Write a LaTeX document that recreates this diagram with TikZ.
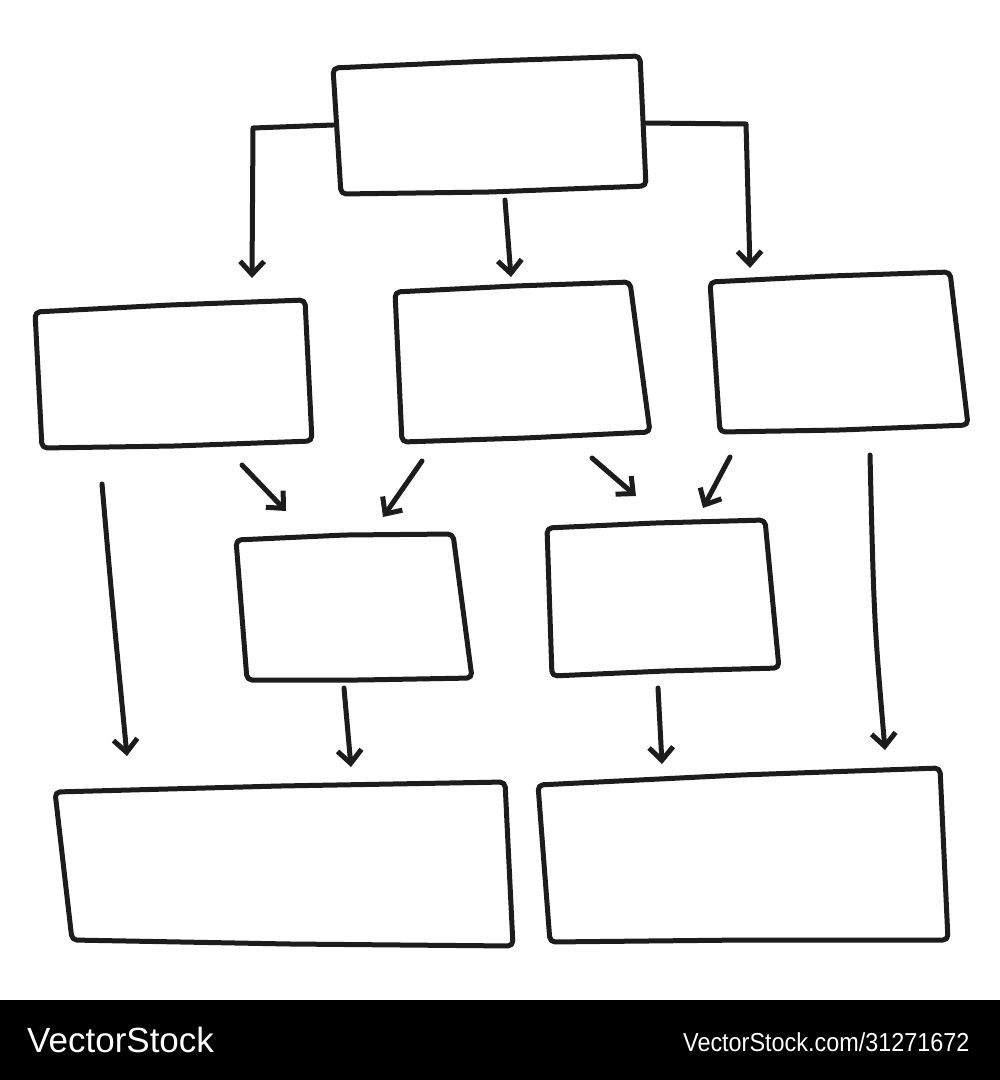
\documentclass[tikz,border=0pt]{standalone}
\usepackage{fontspec}
\setmainfont{Liberation Sans}
\usetikzlibrary{arrows.meta}
\definecolor{ink}{HTML}{1C1C1C}
\begin{document}
\begin{tikzpicture}[x=1pt,y=-1pt,
  box/.style={draw=ink,line width=5pt,rounded corners=5pt,line join=round},
  conn/.style={draw=ink,line width=5pt,line cap=round,line join=round,
    -{Straight Barb[length=13pt,width=24pt,line width=5pt]}},
  wm/.style={text=white,inner sep=0pt,anchor=west}]
\useasboundingbox (0,0) rectangle (1000,1080);
\fill[white] (0,0) rectangle (1000,1000);
\fill[black] (0,1000) rectangle (1000,1080);
% boxes
\draw[box] (333,68) -- (490,61) -- (640,56) -- (646,186) -- (490,192) -- (341,194) -- cycle;
\draw[box] (35,312) -- (170,305) -- (305,300) -- (312,441) -- (175,446) -- (42,448) -- cycle;
\draw[box] (395,292) -- (515,286) -- (630,282) -- (650,432) -- (525,438) -- (402,442) -- cycle;
\draw[box] (710,282) -- (830,276) -- (950,272) -- (968,425) -- (840,430) -- (720,432) -- cycle;
\draw[box] (236,540) -- (345,535) -- (453,534) -- (472,678) -- (360,680) -- (247,680) -- cycle;
\draw[box] (547,528) -- (655,523) -- (765,520) -- (779,668) -- (665,671) -- (552,676) -- cycle;
\draw[box] (55,792) -- (280,786) -- (505,782) -- (513,946) -- (290,944) -- (72,940) -- cycle;
\draw[box] (538,785) -- (740,775) -- (940,768) -- (948,940) -- (745,940) -- (550,942) -- cycle;
% connector coordinates
\coordinate (t1) at (333,125); \coordinate (t1b) at (253,128); \coordinate (t1e) at (252,278);
\coordinate (t2) at (646,123); \coordinate (t2b) at (746,124); \coordinate (t2e) at (750,268);
\coordinate (t3) at (505,200); \coordinate (t3e) at (511,277);
\coordinate (a1) at (242,465); \coordinate (a1e) at (286,511);
\coordinate (a2) at (422,461); \coordinate (a2e) at (383,517);
\coordinate (a3) at (592,458); \coordinate (a3e) at (636,496);
\coordinate (a4) at (730,457); \coordinate (a4e) at (703,508);
\coordinate (l1) at (102,484); \coordinate (l1e) at (127,756);
\coordinate (r1) at (870,455); \coordinate (r1e) at (885,750);
\coordinate (d1) at (344,688); \coordinate (d1e) at (351,767);
\coordinate (e1) at (658,688); \coordinate (e1e) at (662,764);
% connectors
\draw[conn] (t1) -- (t1b) -- (t1e);
\draw[conn] (t2) -- (t2b) -- (t2e);
\draw[conn] (t3) -- (t3e);
\draw[conn] (a1) -- (a1e);
\draw[conn] (a2) -- (a2e);
\draw[conn] (a3) -- (a3e);
\draw[conn] (a4) -- (a4e);
\draw[conn] (l1) .. controls (112,600) .. (l1e);
\draw[conn] (r1) .. controls (874,620) .. (r1e);
\draw[conn] (d1) -- (d1e);
\draw[conn] (e1) -- (e1e);
% watermark
\node[wm,font=\fontsize{35}{35}\selectfont] (wl) at (27,1040) {VectorStock};
\node[wm,font=\fontsize{26}{26}\selectfont,xscale=0.9] (wr) at (683,1042) {VectorStock.com/31271672};
\end{tikzpicture}
\end{document}
